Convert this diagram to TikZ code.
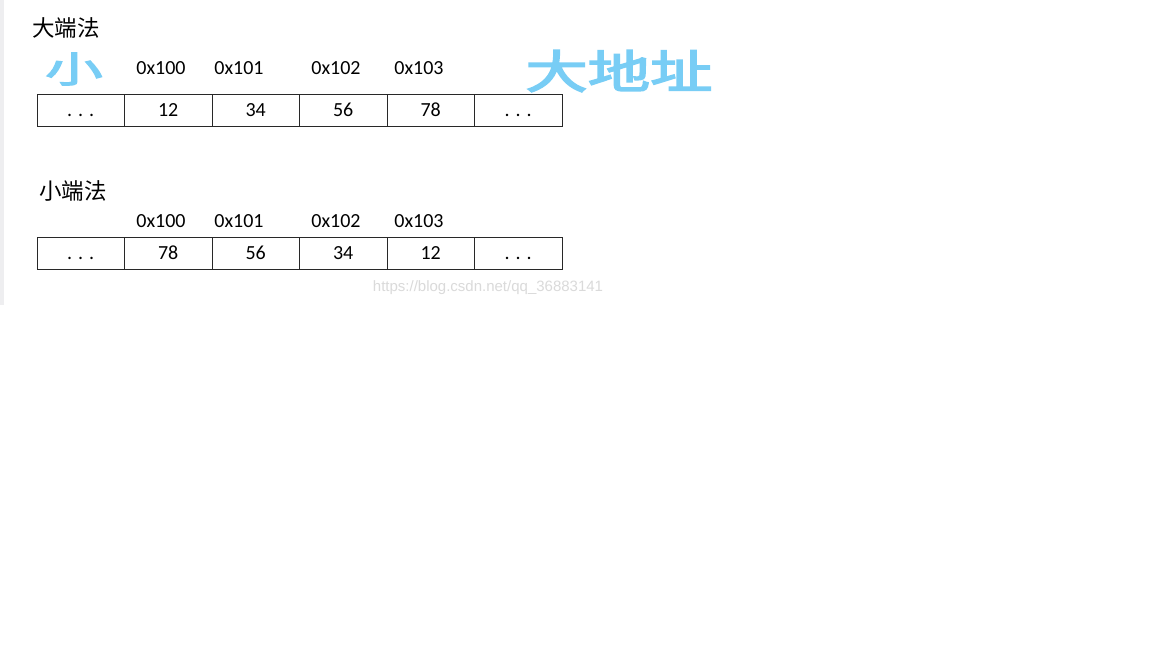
\documentclass[tikz,border=0pt]{standalone}
\usepackage{fontspec}
\setmainfont{Carlito}
\newfontfamily\cjk{Noto Sans CJK SC}
\newfontfamily\hand[FakeBold=3]{Noto Sans CJK SC}
\newfontfamily\wm{Liberation Sans}
\definecolor{handblue}{RGB}{120,205,245}
\definecolor{stripgray}{RGB}{238,238,240}
\definecolor{wmgray}{RGB}{218,218,218}
\definecolor{linegray}{RGB}{40,40,40}
\tikzset{
  cell/.style={draw=linegray, line width=1.4pt, minimum width=#1, minimum height=32pt, inner sep=0pt, anchor=north west, text height=13pt, text depth=0pt, font=\fontsize{20}{20}\selectfont},
  cell/.default=87pt,
  addr/.style={font=\fontsize{20}{20}\selectfont, inner sep=0pt},
  title/.style={font=\cjk\fontsize{22.5}{22.5}\selectfont, inner sep=0pt},
  handtxt/.style={font=\hand\fontsize{48}{48}\selectfont, text=handblue, inner sep=0pt},
  water/.style={font=\wm\fontsize{15}{15}\selectfont, text=wmgray, inner sep=0pt}
}
\begin{document}
\begin{tikzpicture}[x=1pt,y=-1pt]
\useasboundingbox[fill=white] (0,0) rectangle (1152,648);
\fill[stripgray] (0,0) rectangle (4,305);
% big endian
\node[title] (t1) at (66,28) {大端法};
\node[addr] (a1) at (161,68) {0x100};
\node[addr] (a2) at (239,68) {0x101};
\node[addr] (a3) at (336,68) {0x102};
\node[addr] (a4) at (419,68) {0x103};
\node[cell=87pt] (c0) at (36.5,93.5) {. . .};
\node[cell=88pt] (c1) at (123.5,93.5) {12};
\node[cell=87pt] (c2) at (211.5,93.5) {34};
\node[cell=88pt] (c3) at (298.5,93.5) {56};
\node[cell=87pt] (c4) at (386.5,93.5) {78};
\node[cell=88pt] (c5) at (473.5,93.5) {. . .};
\node[handtxt, xscale=1.2, yscale=0.75] (hs) at (74,69) {小};
\node[handtxt, xscale=1.3, yscale=0.95] (hb) at (619,71) {大地址};
% little endian
\node[title] (t2) at (73,191) {小端法};
\node[addr] (b1) at (161,221) {0x100};
\node[addr] (b2) at (239,221) {0x101};
\node[addr] (b3) at (336,221) {0x102};
\node[addr] (b4) at (419,221) {0x103};
\node[cell=87pt] (d0) at (36.5,236.5) {. . .};
\node[cell=88pt] (d1) at (123.5,236.5) {78};
\node[cell=87pt] (d2) at (211.5,236.5) {56};
\node[cell=88pt] (d3) at (298.5,236.5) {34};
\node[cell=87pt] (d4) at (386.5,236.5) {12};
\node[cell=88pt] (d5) at (473.5,236.5) {. . .};
\node[water] (wm) at (488,288) {https://blog.csdn.net/qq\_36883141};
\end{tikzpicture}
\end{document}
